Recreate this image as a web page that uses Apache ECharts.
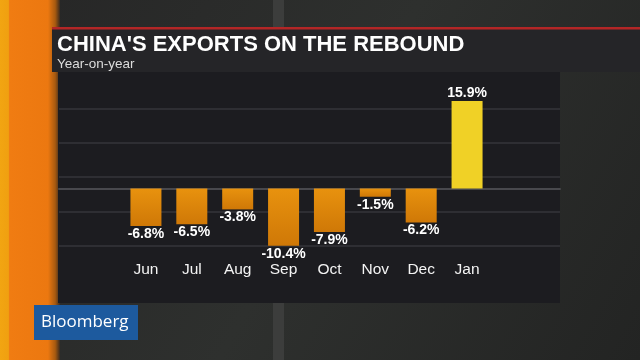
<!DOCTYPE html>
<html>
<head>
<meta charset="utf-8">
<script src="https://cdn.jsdelivr.net/npm/echarts@6/dist/echarts.min.js"></script>
<style>
html,body{margin:0;padding:0;background:#282828;}
#chart{width:640px;height:360px;}
</style>
</head>
<body>
<div id="chart"></div>
<script>
const titleText = "CHINA'S EXPORTS ON THE REBOUND";
const subtitleText = 'Year-on-year';
const categories = ['Jun', 'Jul', 'Aug', 'Sep', 'Oct', 'Nov', 'Dec', 'Jan'];
const exportsYoY = [-6.8, -6.5, -3.8, -10.4, -7.9, -1.5, -6.2, 15.9];

const FONT = '"Liberation Sans", Arial, Helvetica, sans-serif';
const chart = echarts.init(document.getElementById('chart'), null, {renderer: 'canvas'});

const negColor = new echarts.graphic.LinearGradient(0, 0, 0, 1, [
  {offset: 0, color: '#e8920e'},
  {offset: 1, color: '#cf7807'}
]);
const posColor = '#f0d126';

const barData = exportsYoY.map(v => ({
  value: v,
  itemStyle: {color: v < 0 ? negColor : posColor},
  label: {position: v < 0 ? 'bottom' : 'top'}
}));

const yMin = -12.5, yMax = 20;

chart.setOption({
  backgroundColor: '#2a2b2a',
  animation: false,
  graphic: [
    {type: 'rect', z: -20, shape: {x: 0, y: 0, width: 640, height: 360},
     style: {fill: new echarts.graphic.LinearGradient(0, 0, 1, 1, [
       {offset: 0, color: '#262626'}, {offset: 0.5, color: '#2e302e'}, {offset: 1, color: '#232423'}])}},
    {type: 'rect', z: -19, shape: {x: 273, y: 0, width: 11, height: 360}, style: {fill: '#3c3d3c'}},
    {type: 'rect', z: -18, shape: {x: 0, y: 0, width: 60, height: 360},
     style: {fill: new echarts.graphic.LinearGradient(0, 0, 1, 0, [
       {offset: 0, color: '#f2a512'}, {offset: 0.14, color: '#f0a010'},
       {offset: 0.16, color: '#f07c12'}, {offset: 0.8, color: '#ec7810'},
       {offset: 0.92, color: '#a85a10'}, {offset: 1, color: '#3a2a1e'}])}},
    {type: 'rect', z: -17, shape: {x: 52, y: 29, width: 588, height: 43}, style: {fill: '#252528'}},
    {type: 'rect', z: -16, shape: {x: 52, y: 27, width: 588, height: 2.5}, style: {fill: '#b32626'}},
    {type: 'rect', z: -17, shape: {x: 58, y: 72, width: 502, height: 231}, style: {fill: '#1c1c20'}},
    {type: 'rect', z: 5, shape: {x: 34, y: 305, width: 104, height: 35}, style: {fill: '#1d5a9e'}},
    {type: 'text', z: 6, x: 41, y: 322.5,
     style: {text: 'Bloomberg', fill: '#ffffff', font: '17px "Open Sans", "Liberation Sans", sans-serif',
             verticalAlign: 'middle'}}
  ],
  title: {
    text: titleText,
    subtext: subtitleText,
    left: 57,
    top: 34,
    padding: 0,
    itemGap: 1,
    textStyle: {color: '#ffffff', fontFamily: FONT, fontWeight: 'bold', fontSize: 22},
    subtextStyle: {color: '#dddddd', fontFamily: FONT, fontSize: 13.5}
  },
  grid: [
    {left: 123, width: 367, top: 78.5, height: 178.75},
    {left: 59, right: 80, top: 78.5, height: 178.75},
    {left: 59, right: 80, top: 108.3, height: 137.4}
  ],
  xAxis: [
    {type: 'category', gridIndex: 0, data: categories,
     axisLine: {show: false, onZero: false}, axisTick: {show: false},
     axisLabel: {color: '#f4f4f4', fontFamily: FONT, fontSize: 15.5, margin: 4}},
    {type: 'value', gridIndex: 1, min: 0, max: 1,
     axisLine: {show: true, onZero: true, lineStyle: {color: '#48484d', width: 2}},
     axisTick: {show: false}, axisLabel: {show: false}, splitLine: {show: false}},
    {type: 'value', gridIndex: 2, min: 0, max: 1, show: false}
  ],
  yAxis: [
    {type: 'value', gridIndex: 0, min: yMin, max: yMax, show: false},
    {type: 'value', gridIndex: 1, min: yMin, max: yMax, show: false},
    {type: 'value', gridIndex: 2, min: 0, max: 4, interval: 1,
     axisLine: {show: false}, axisTick: {show: false}, axisLabel: {show: false},
     splitLine: {show: true, lineStyle: {color: '#35353a', width: 1.5}}}
  ],
  series: [{
    type: 'bar',
    xAxisIndex: 0, yAxisIndex: 0,
    data: barData,
    barWidth: 31,
    z: 3,
    label: {
      show: true,
      distance: 1,
      color: '#ffffff',
      fontFamily: FONT,
      fontWeight: 'bold',
      fontSize: 14,
      formatter: p => p.value + '%'
    }
  }]
});
</script>
</body>
</html>
